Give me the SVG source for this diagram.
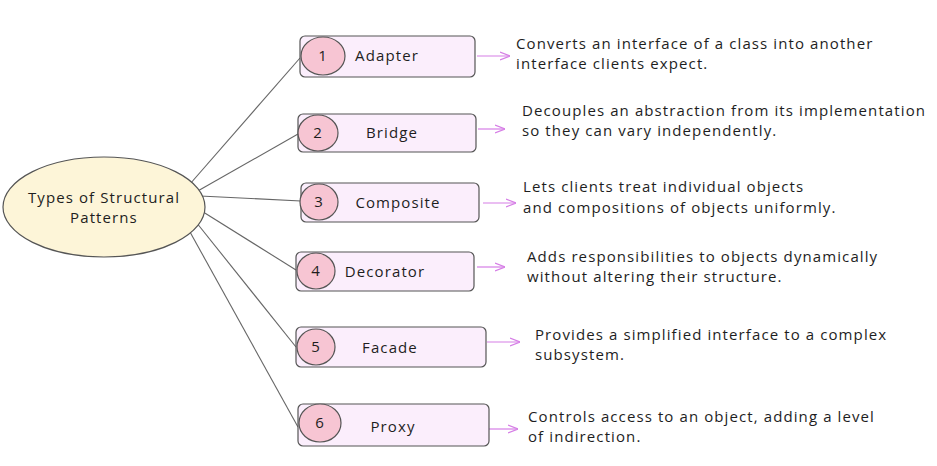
<svg xmlns="http://www.w3.org/2000/svg" width="937" height="466" viewBox="0 0 937 466">
<defs>
<marker id="ah" viewBox="0 0 10 10" refX="10" refY="5" markerWidth="10" markerHeight="10" orient="auto" markerUnits="userSpaceOnUse"><path d="M0,1 L10,5 L0,9" fill="none" stroke="#d67ee6" stroke-width="1.2"/></marker>
</defs>
<style>
.box{fill:#fbeefc;stroke:#555;stroke-width:1.2}
.num{fill:#f7c5d3;stroke:#555;stroke-width:1.2}
.t{font-family:"Open Sans",sans-serif;font-size:15px;letter-spacing:1.1px;fill:#1e1e1e}
.c{text-anchor:middle}
.ln{stroke:#666;stroke-width:1.1;fill:none}
.ar{stroke:#d67ee6;stroke-width:1.2;fill:none;marker-end:url(#ah)}
</style>
<rect width="937" height="466" fill="#fff"/>
<g id="connectors">
<path class="ln" d="M190,184 L300,58"/>
<path class="ln" d="M196,192 L298,134"/>
<path class="ln" d="M200,196 L301,201"/>
<path class="ln" d="M200,210 L296,270"/>
<path class="ln" d="M196,222 L296,347"/>
<path class="ln" d="M190,232 L298,427"/>
<path class="ar" d="M477,56 L510,56"/>
<path class="ar" d="M478,129 L505,129"/>
<path class="ar" d="M483,203 L516,203"/>
<path class="ar" d="M477,267 L505,267"/>
<path class="ar" d="M487,342 L520,342"/>
<path class="ar" d="M489,429 L518,429"/>
</g>
<g id="root"><ellipse cx="104" cy="207" rx="101" ry="50" fill="#fdf5d8" stroke="#555" stroke-width="1.2"/>
<text class="t c" x="104" y="203">Types of Structural</text><text class="t c" x="104" y="223">Patterns</text></g>
<g id="n1"><rect class="box" x="300" y="36" width="175" height="41" rx="5"/><ellipse class="num" cx="323" cy="56" rx="22" ry="19"/><text class="t c" x="323" y="61">1</text><text class="t c" x="387" y="61">Adapter</text>
<text class="t" x="516" y="49">Converts an interface of a class into another</text><text class="t" x="516" y="69">interface clients expect.</text></g>
<g id="n2"><rect class="box" x="298" y="114" width="178" height="38" rx="5"/><ellipse class="num" cx="318" cy="133" rx="20" ry="18"/><text class="t c" x="318" y="138">2</text><text class="t c" x="392" y="138">Bridge</text>
<text class="t" x="522" y="116">Decouples an abstraction from its implementation</text><text class="t" x="522" y="136">so they can vary independently.</text></g>
<g id="n3"><rect class="box" x="301" y="183" width="178" height="39" rx="5"/><ellipse class="num" cx="319" cy="202" rx="19" ry="18"/><text class="t c" x="319" y="207">3</text><text class="t c" x="398" y="208">Composite</text>
<text class="t" x="523" y="192">Lets clients treat individual objects</text><text class="t" x="523" y="213">and compositions of objects uniformly.</text></g>
<g id="n4"><rect class="box" x="296" y="252" width="178" height="39" rx="5"/><ellipse class="num" cx="316" cy="271" rx="19" ry="18"/><text class="t c" x="316" y="276">4</text><text class="t c" x="385" y="277">Decorator</text>
<text class="t" x="527" y="262">Adds responsibilities to objects dynamically</text><text class="t" x="527" y="282">without altering their structure.</text></g>
<g id="n5"><rect class="box" x="296" y="327" width="190" height="40" rx="5"/><ellipse class="num" cx="316" cy="347" rx="19" ry="18"/><text class="t c" x="316" y="352">5</text><text class="t c" x="390" y="353">Facade</text>
<text class="t" x="535" y="340">Provides a simplified interface to a complex</text><text class="t" x="535" y="360">subsystem.</text></g>
<g id="n6"><rect class="box" x="298" y="404" width="191" height="42" rx="5"/><ellipse class="num" cx="320" cy="423" rx="21" ry="19"/><text class="t c" x="320" y="428">6</text><text class="t c" x="393" y="432">Proxy</text>
<text class="t" x="528" y="422">Controls access to an object, adding a level</text><text class="t" x="528" y="442">of indirection.</text></g>
</svg>
